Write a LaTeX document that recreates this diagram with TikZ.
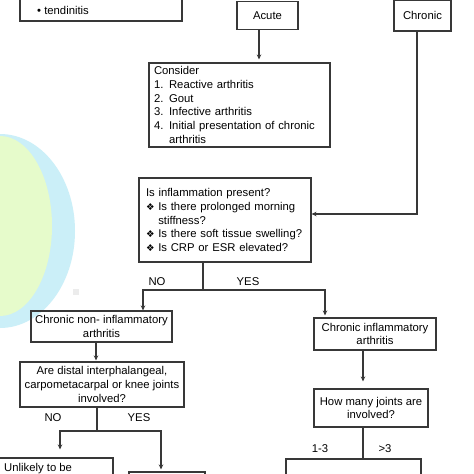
\documentclass[tikz,border=0pt]{standalone}
\usepackage{fontspec}
\setmainfont{Liberation Sans}
\newfontfamily\djfont{DejaVu Sans}
\usetikzlibrary{arrows.meta}
\definecolor{ln}{HTML}{383838}
\definecolor{blobc}{HTML}{CBEFF8}
\definecolor{blobg}{HTML}{E6FBCB}
\newcommand{\dmd}{{\djfont\fontsize{9.5}{10}\selectfont ❖}}
\begin{document}
\begin{tikzpicture}[x=1pt,y=-1pt,
  font=\fontsize{11.3}{13.8}\selectfont,
  box/.style={draw=ln, line width=1.1pt, rectangle, inner sep=0pt},
  arr/.style={draw=ln, line width=1.1pt, -{Stealth[length=5pt,width=4.5pt]}},
  conn/.style={draw=ln, line width=1.1pt},
  lbl/.style={inner sep=0pt}]
\useasboundingbox (0,0) rectangle (474,474);
\fill[white] (0,0) rectangle (474,474);
\clip (0,0) rectangle (474,474);
% faint background blob
\fill[blobc] (0,231) ellipse (75 and 97);
\fill[blobg] (0,226) ellipse (52 and 90);
\fill[gray!15] (73,289) rectangle (79,295);
% boxes
\node[box, minimum width=162, minimum height=61] (tl) at (101,-9.5) {};
\node[lbl, anchor=west] (tend) at (37,10) {• tendinitis};
\node[box, minimum width=61, minimum height=28] (acute) at (267.5,15.5) {Acute};
\node[box, minimum width=57, minimum height=31] (chronic) at (422.5,15.5) {Chronic};
\node[box, minimum width=181, minimum height=84, inner xsep=5pt, text width=171, align=left] (consider) at (239.5,105)
 {Consider\\1. Reactive arthritis\\2. Gout\\3. Infective arthritis\\4. Initial presentation of chronic\\\phantom{4. }arthritis};
\node[box, minimum width=172, minimum height=84, inner xsep=7pt, text width=158, align=left] (inflam) at (225,220)
 {Is inflammation present?\\\dmd\ Is there prolonged morning\\\phantom{\dmd\ }stiffness?\\\dmd\ Is there soft tissue swelling?\\\dmd\ Is CRP or ESR elevated?};
\node[box, minimum width=141, minimum height=31, align=center] (cnon) at (101.5,326.5)
 {Chronic non- inflammatory\\arthritis};
\node[box, minimum width=164, minimum height=45, align=center] (distal) at (102,384.5)
 {Are distal interphalangeal,\\carpometacarpal or knee joints\\involved?};
\node[box, minimum width=133, minimum height=62] (unlikely) at (46.5,489) {};
\node[lbl, anchor=west] (unltext) at (4,469) {Unlikely to be};
\node[box, minimum width=76, minimum height=48] (bmid) at (167,496) {};
\node[box, minimum width=122, minimum height=32, align=center] (cinf) at (375,334)
 {Chronic inflammatory\\arthritis};
\node[box, minimum width=114, minimum height=38, align=center] (howmany) at (371,408)
 {How many joints are\\involved?};
% labels
\node[lbl] (no1) at (157,282) {NO};
\node[lbl] (yes1) at (248,282) {YES};
\node[lbl] (no2) at (53,418) {NO};
\node[lbl] (yes2) at (139,418) {YES};
\node[lbl] (n13) at (320,449) {1-3};
\node[lbl] (ngt3) at (385,449) {>3};
% connectors
\draw[conn] ([xshift=-12.5pt]chronic.north) -- ++(0,-6);
\draw[arr, shorten >=3pt] ([xshift=-8.5pt]acute.south) -- ([xshift=-8.5pt]acute.south |- consider.north);
\draw[arr] ([xshift=-5.5pt]chronic.south) |- ([yshift=6pt]inflam.east);
\coordinate (j1) at (203,290);
\draw[conn] ([xshift=-22pt]inflam.south) -- (j1);
\draw[arr] (j1) -| ([xshift=41.5pt]cnon.north);
\draw[arr, shorten >=2pt] (j1) -| ([xshift=-50pt]cinf.north);
\draw[arr, shorten >=1pt] ([xshift=-5.5pt]cnon.south) -- ([xshift=-5.5pt]cnon.south |- distal.north);
\coordinate (j2) at (97,431);
\draw[conn] ([xshift=-5pt]distal.south) -- (j2);
\draw[arr, shorten >=8pt] (j2) -| ([xshift=13.5pt]unlikely.north);
\draw[arr, shorten >=2pt] (j2) -| ([xshift=-6pt]bmid.north);
\draw[arr, shorten >=7pt] ([xshift=-12pt]cinf.south) -- ([xshift=-12pt]cinf.south |- howmany.north);
\coordinate (j3) at (363,459);
\coordinate (b1) at (286,480);
\coordinate (b2) at (421,480);
\draw[conn] ([xshift=-8pt]howmany.south) -- (j3);
\draw[conn] (j3) -| (b1);
\draw[conn] (j3) -| (b2);
\end{tikzpicture}
\end{document}
